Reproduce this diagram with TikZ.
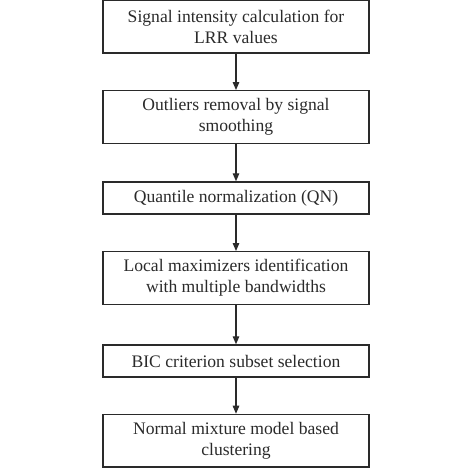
\documentclass[tikz,border=0pt]{standalone}
\usepackage{fontspec}
\setmainfont{Liberation Serif}
\usetikzlibrary{arrows.meta}
\definecolor{ink}{HTML}{2A2A2A}
\tikzset{
  stepbox/.style={draw=ink, line width=1.4pt, minimum width=266pt, inner sep=0pt, text=ink,
    font=\fontsize{17.6}{20.7}\selectfont, align=center},
  tallbox/.style={stepbox, minimum height=52.5pt},
  shortbox/.style={stepbox, minimum height=32pt},
  flow/.style={draw=ink, line width=1.2pt, -{Triangle[length=8pt,width=6.5pt]}}
}
\begin{document}
\begin{tikzpicture}[x=1pt,y=1pt]
\useasboundingbox (0,0) rectangle (474,474);
\node[tallbox] (b1) at (236,474-26.8) {Signal intensity calculation for\\LRR values};
\node[tallbox] (b2) at (236,474-117) {Outliers removal by signal\\smoothing};
\node[shortbox] (b3) at (236,474-198) {Quantile normalization (QN)};
\node[tallbox] (b4) at (236,474-278) {Local maximizers identification\\with multiple bandwidths};
\node[shortbox] (b5) at (236,474-361) {BIC criterion subset selection};
\node[tallbox] (b6) at (236,474-440.7) {Normal mixture model based\\clustering};
\draw[flow] (b1) -- (b2);
\draw[flow] (b2) -- (b3);
\draw[flow] (b3) -- (b4);
\draw[flow] (b4) -- (b5);
\draw[flow] (b5) -- (b6);
\end{tikzpicture}
\end{document}
